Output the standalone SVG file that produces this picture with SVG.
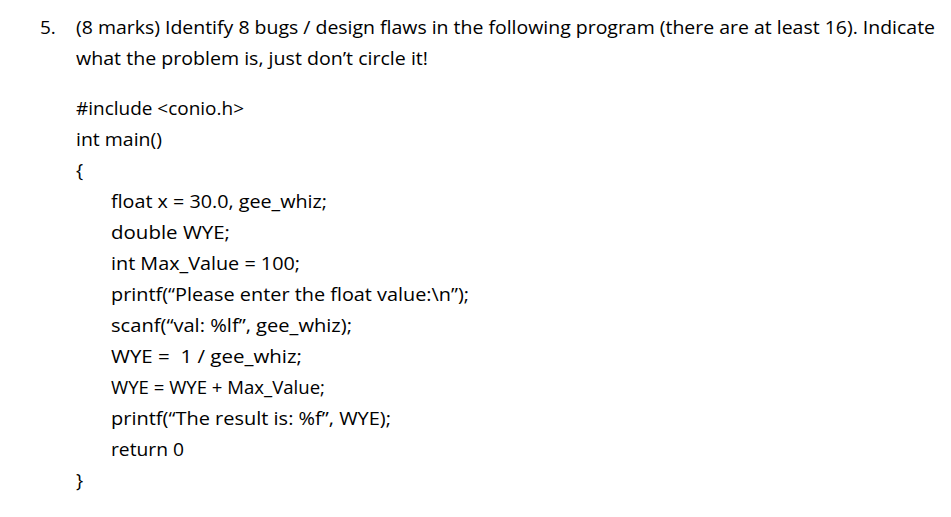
<svg xmlns="http://www.w3.org/2000/svg" width="951" height="517" viewBox="0 0 951 517">
<style>text{font-family:"Open Sans","Liberation Sans",sans-serif;font-size:19px;fill:#000}</style>
<rect width="951" height="517" fill="#fff"/>
<text x="40" y="34">5.</text>
<text x="76" y="34" textLength="859" lengthAdjust="spacingAndGlyphs">(8 marks) Identify 8 bugs / design flaws in the following program (there are at least 16).  Indicate</text>
<text x="76" y="65" textLength="352" lengthAdjust="spacingAndGlyphs">what the problem is, just don’t circle it!</text>
<text x="76" y="115" textLength="168" lengthAdjust="spacingAndGlyphs">#include &lt;conio.h&gt;</text>
<text x="76" y="146" textLength="86" lengthAdjust="spacingAndGlyphs">int main()</text>
<text x="76" y="177">{</text>
<text x="111" y="208" textLength="216" lengthAdjust="spacingAndGlyphs">float x = 30.0, gee_whiz;</text>
<text x="111" y="239" textLength="119" lengthAdjust="spacingAndGlyphs">double WYE;</text>
<text x="111" y="270" textLength="189" lengthAdjust="spacingAndGlyphs">int Max_Value = 100;</text>
<text x="111" y="301" textLength="358" lengthAdjust="spacingAndGlyphs">printf(“Please enter the float value:\n”);</text>
<text x="111" y="332" textLength="241" lengthAdjust="spacingAndGlyphs">scanf(“val: %lf”, gee_whiz);</text>
<text x="111" y="363" textLength="191" lengthAdjust="spacingAndGlyphs" xml:space="preserve">WYE =  1 / gee_whiz;</text>
<text x="111" y="394" textLength="214" lengthAdjust="spacingAndGlyphs">WYE = WYE + Max_Value;</text>
<text x="111" y="425" textLength="280" lengthAdjust="spacingAndGlyphs">printf(“The result is: %f”, WYE);</text>
<text x="111" y="456" textLength="73" lengthAdjust="spacingAndGlyphs">return 0</text>
<text x="76" y="487">}</text>
</svg>
